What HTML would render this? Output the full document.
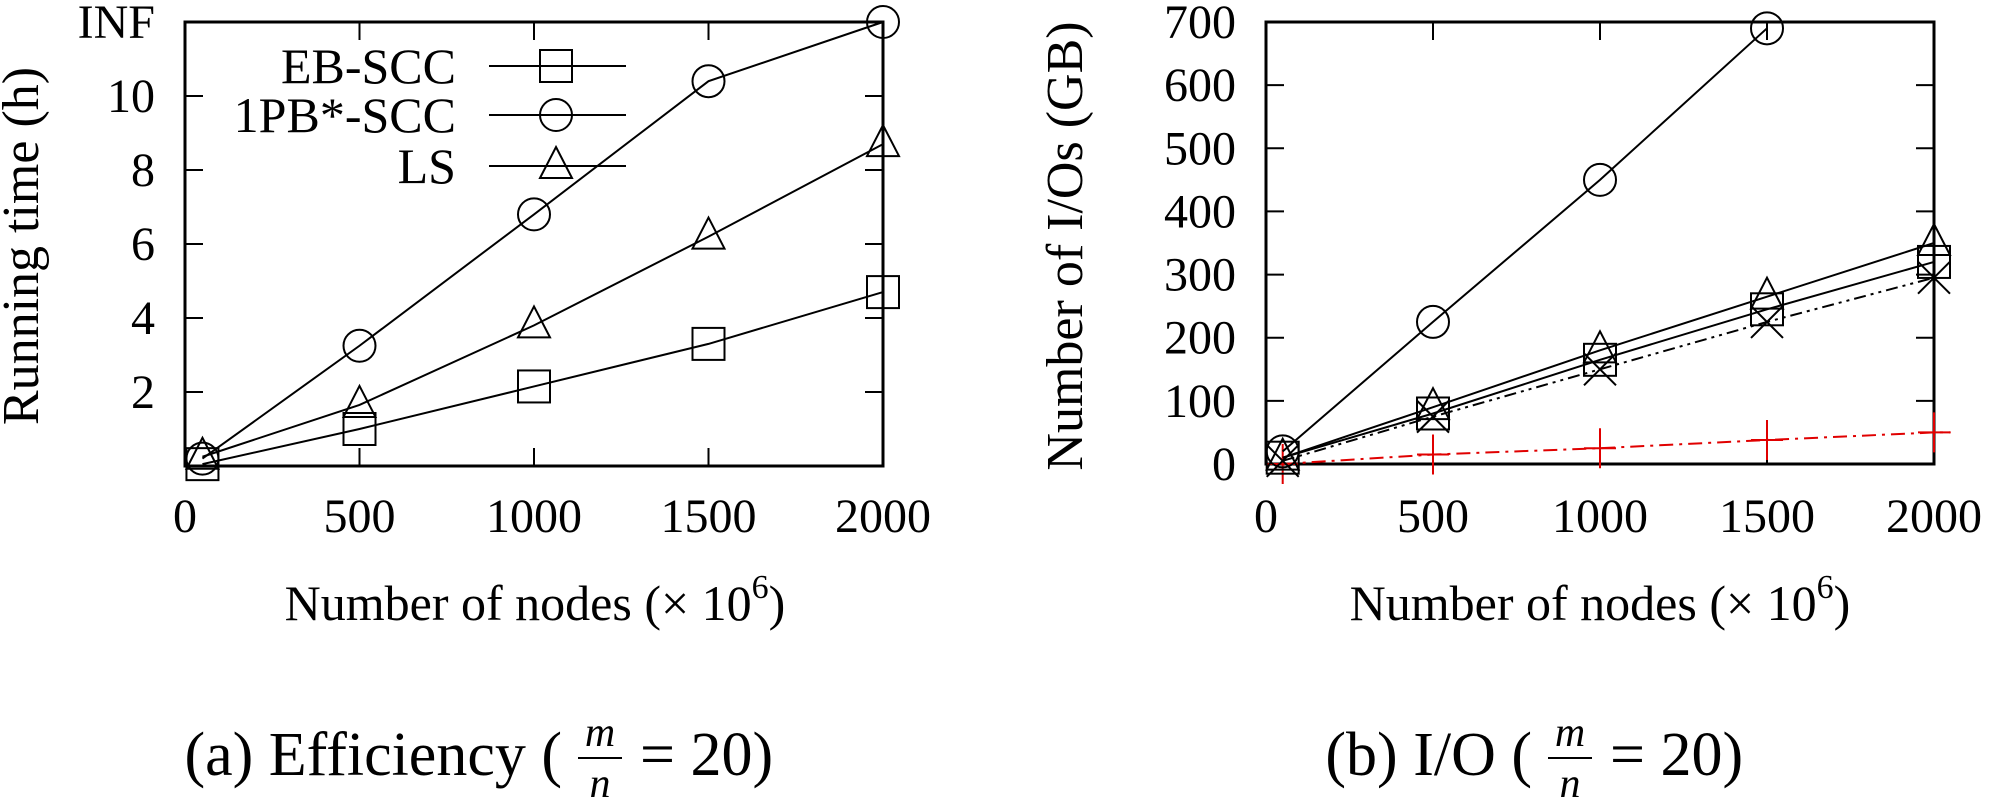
<!DOCTYPE html>
<html><head><meta charset="utf-8"><style>
body{margin:0;background:#fff;}
svg{display:block;font-family:"Liberation Serif",serif;}
</style></head><body>
<svg width="1992" height="800" viewBox="0 0 1992 800">
<g id="root"></g>
</svg>
<script>
const xCats=[50,500,1000,1500,2000];
const xTicks=[0,500,1000,1500,2000];
const leftYTicks=[2,4,6,8,10];
const ebTime=[0.05,1.0,2.15,3.3,4.7];
const pbTime=[0.2,3.25,6.8,10.4,12];
const lsTime=[0.25,1.65,3.8,6.2,8.7];
const rightYTicks=[0,100,200,300,400,500,600,700];
const pbIO=[20,225,450,690];
const lsIO=[10,90,180,265,350];
const ebIO=[10,80,165,245,320];
const xIO=[5,75,150,225,295];
const redIO=[0,15,25,38,50];

const NS="http://www.w3.org/2000/svg";
const root=document.getElementById('root');
function mk(tag,attrs,parent,name,text){
  const e=document.createElementNS(NS,tag);
  for(const k in attrs)e.setAttribute(k,attrs[k]);
  
  
  if(text!==undefined)e.textContent=text;
  (parent||root).appendChild(e);return e;
}
function marker(g,type,x,y,col){
  const s=16;
  if(type==='sq')mk('rect',{x:x-s,y:y-s,width:2*s,height:2*s,fill:'none',stroke:col,'stroke-width':2},g,'marker-square');
  if(type==='ci')mk('circle',{cx:x,cy:y,r:s,fill:'none',stroke:col,'stroke-width':2},g,'marker-circle');
  if(type==='tr')mk('path',{d:`M${x} ${y-s-3}L${x+s} ${y+s-4}L${x-s} ${y+s-4}Z`,fill:'none',stroke:col,'stroke-width':2},g,'marker-triangle');
  if(type==='x')mk('path',{d:`M${x-s} ${y-s}L${x+s} ${y+s}M${x+s} ${y-s}L${x-s} ${y+s}`,fill:'none',stroke:col,'stroke-width':2},g,'marker-cross');
  if(type==='pl')mk('path',{d:`M${x-s} ${y}L${x+s} ${y}M${x} ${y-s-4}L${x} ${y+s+4}`,fill:'none',stroke:col,'stroke-width':2},g,'marker-plus');
}
function panel(o){
  const g=mk('g',{},root,o.name);
  const X=v=>o.x0+(v-0)/(2000)*(o.x1-o.x0);
  const Y=v=>o.y0-(v-o.ymin)/(o.ymax-o.ymin)*(o.y0-o.y1);
  mk('rect',{x:o.x0,y:o.y1,width:o.x1-o.x0,height:o.y0-o.y1,fill:'none',stroke:'#000','stroke-width':3},g,'plot-frame');
  xTicks.forEach(t=>{
    const x=X(t);
    if(t>0&&t<2000){mk('line',{x1:x,y1:o.y0,x2:x,y2:o.y0-18,stroke:'#000','stroke-width':2},g,'x-tick');
    mk('line',{x1:x,y1:o.y1,x2:x,y2:o.y1+18,stroke:'#000','stroke-width':2},g,'x-tick');}
    mk('text',{x:x,y:532,'font-size':48,'text-anchor':'middle'},g,'x-tick-label',String(t));
  });
  o.yticks.forEach(t=>{
    const y=Y(t);
    if(t>o.ymin&&t<o.ymax){mk('line',{x1:o.x0,y1:y,x2:o.x0+18,y2:y,stroke:'#000','stroke-width':2},g,'y-tick');
    mk('line',{x1:o.x1,y1:y,x2:o.x1-18,y2:y,stroke:'#000','stroke-width':2},g,'y-tick');}
    mk('text',{x:o.x0-30,y:y+16,'font-size':48,'text-anchor':'end'},g,'y-tick-label',String(t));
  });
  if(o.inf)mk('text',{x:o.x0-30,y:Y(12)+16,'font-size':48,'text-anchor':'end'},g,'y-tick-label','INF');
  o.series.forEach(s=>{
    const sg=mk('g',{},g,s.name);
    const pts=s.vals.map((v,i)=>[X(xCats[i]),Y(v)]);
    if(s.extend)pts.push([X(2050),Y(s.vals[s.vals.length-1])]);
    mk('polyline',{points:pts.map(p=>p.join(',')).join(' '),fill:'none',stroke:s.col,'stroke-width':2,'stroke-dasharray':s.dash||'none'},sg,'series-line');
    s.vals.forEach((v,i)=>marker(sg,s.m,X(xCats[i]),Y(v),s.col));
  });
  const xt=mk('text',{x:o.xtc,y:620,'font-size':50,'text-anchor':'middle'},g,'x-axis-title');
  xt.innerHTML='Number of nodes (× 10<tspan dy="-22" font-size="34">6</tspan><tspan dy="22">)</tspan>';
  mk('text',{x:0,y:0,'font-size':52,'text-anchor':'middle',transform:`translate(${o.ytx},${o.ytc}) rotate(-90)`},g,'y-axis-title',o.ytitle);
  mk('text',{x:o.capx,y:775,'font-size':62,'text-anchor':'end'},g,'caption',o.cap);
  mk('text',{x:o.capx+38,y:746,'font-size':42,'text-anchor':'middle','font-style':'italic'},g,'caption-frac-num','m');
  mk('line',{x1:o.capx+16,y1:758,x2:o.capx+60,y2:758,stroke:'#000','stroke-width':2},g,'caption-frac-bar');
  mk('text',{x:o.capx+38,y:797,'font-size':42,'text-anchor':'middle','font-style':'italic'},g,'caption-frac-den','n');
  mk('text',{x:o.capx+78,y:775,'font-size':62},g,'caption-tail','= 20)');
  return g;
}
const left=panel({name:'efficiency-chart',x0:185,x1:883,y0:466,y1:22,ymin:0,ymax:12,yticks:leftYTicks,inf:true,
  series:[{name:'series-eb-scc',vals:ebTime,m:'sq',col:'#000'},{name:'series-1pb-scc',vals:pbTime,m:'ci',col:'#000'},{name:'series-ls',vals:lsTime,m:'tr',col:'#000'}],
  ytitle:'Running time (h)',ytx:38,ytc:246,xtc:535,cap:'(a) Efficiency (',capx:562});
const right=panel({name:'io-chart',x0:1266,x1:1934,y0:464,y1:22,ymin:0,ymax:700,yticks:rightYTicks,inf:false,
  series:[{name:'series-red-plus',vals:redIO,m:'pl',col:'#e00000',dash:'14,6,3,6',extend:true},{name:'series-cross',vals:xIO,m:'x',col:'#000',dash:'12,5,3,5,3,5'},{name:'series-eb-scc',vals:ebIO,m:'sq',col:'#000'},{name:'series-ls',vals:lsIO,m:'tr',col:'#000'},{name:'series-1pb-scc',vals:pbIO,m:'ci',col:'#000'}],
  ytitle:'Number of I/Os (GB)',ytx:1082,ytc:246,xtc:1600,cap:'(b) I/O (',capx:1532});
// legend
const lg=mk('g',{},left,'legend');
[['EB-SCC','sq',66],['1PB*-SCC','ci',115],['LS','tr',166]].forEach(([t,m,y])=>{
  const e=mk('g',{},lg,'legend-entry');
  mk('text',{x:456,y:y+17,'font-size':50,'text-anchor':'end'},e,'legend-label',t);
  mk('line',{x1:489,y1:y,x2:626,y2:y,stroke:'#000','stroke-width':2},e,'legend-line');
  marker(e,m,556,y,'#000');
});
</script>
</body></html>
